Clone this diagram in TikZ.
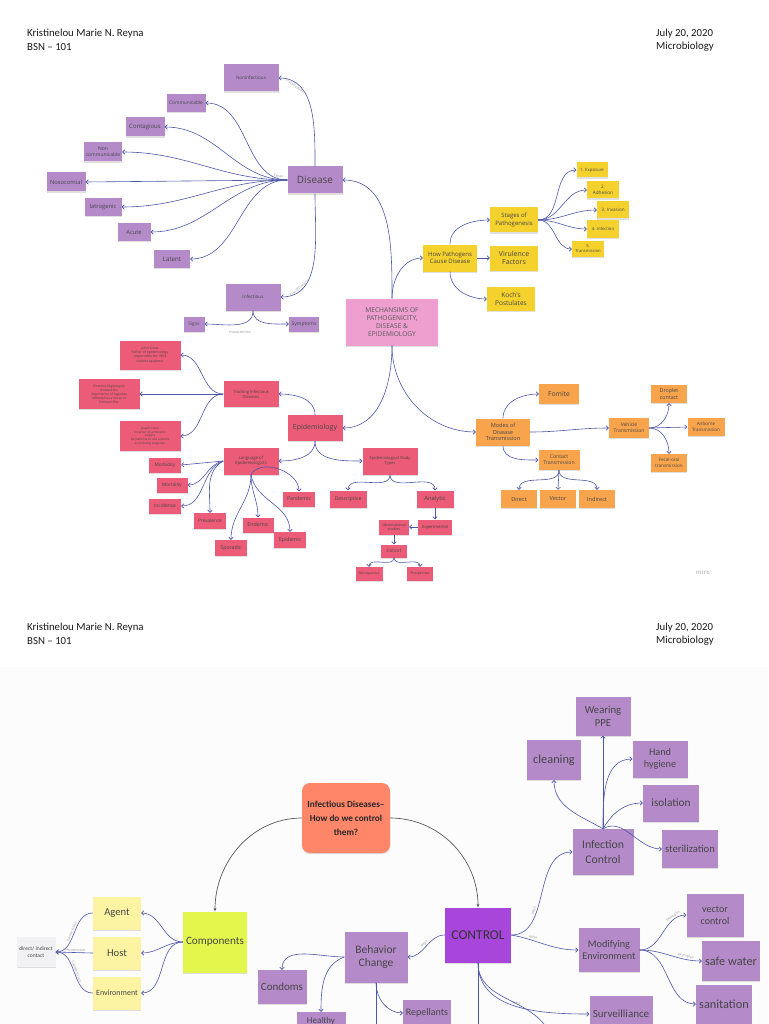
\documentclass[tikz,border=0pt]{standalone}
\usepackage{fontspec}
\setmainfont{Carlito}
\newfontfamily\miro{Open Sans}
\usetikzlibrary{arrows.meta,positioning,shadows}

\definecolor{stickyPurple}{HTML}{B48AC9}
\definecolor{stickyYellow}{HTML}{F5D12E}
\definecolor{stickyRed}{HTML}{EC5B77}
\definecolor{stickyOrange}{HTML}{F8A44C}
\definecolor{stickyPink}{HTML}{EE9FD0}
\definecolor{stickyPale}{HTML}{FCF4A3}
\definecolor{stickyLime}{HTML}{E2F64B}
\definecolor{stickyGray}{HTML}{F1F1F3}
\definecolor{ctrlViolet}{HTML}{A845DB}
\definecolor{questCoral}{HTML}{FF8669}
\definecolor{linkBlue}{HTML}{4D57A8}

\newcommand\mfs[1]{\fontsize{#1}{\the\dimexpr #1pt*6/5\relax}\selectfont}

\tikzset{
  sticky/.style={fill=#1, align=center, inner sep=1pt, text=black!72,
    drop shadow={opacity=.25, shadow xshift=0pt, shadow yshift=-1.2pt}},
  wh/.style 2 args={minimum width=#1pt, minimum height=#2pt},
  mf/.style={font=\miro\mfs{#1}},
  cf/.style={font=\mfs{#1}},
  hdr/.style={font=\mfs{10.8}, inner sep=0pt, anchor=west, text=black!90},
  link/.style={draw=linkBlue, line width=.6pt, -{Straight Barb[length=2.2pt,width=4.4pt]}},
  plainlink/.style={draw=linkBlue, line width=.6pt},
  qlink/.style={draw=black!65, line width=.7pt, -{Stealth[length=3.5pt,width=3pt]}},
  linklbl/.style={font=\miro\mfs{3.6}, text=black!40, sloped, inner sep=1pt},
}

\begin{document}
\begin{tikzpicture}[x=1pt,y=-1pt]
\useasboundingbox (0,0) rectangle (768,1024);
\fill[black!1] (0,667) rectangle (768,1024);

% ---- page 1: header
\node[hdr] (name1) at (27,34) {Kristinelou Marie N. Reyna};
\node[hdr] (bsn1) at (27,47) {BSN -- 101};
\node[hdr] (date1) at (656,34) {July 20, 2020};
\node[hdr] (subj1) at (656,47) {Microbiology};

% disease
\node[sticky=stickyPurple, wh={55}{27}, mf=10] (disease) at (315,180) {Disease};
\node[sticky=stickyPurple, wh={55}{27}, mf=4.6] (noninf) at (251,78) {Noninfectious};
\node[sticky=stickyPurple, wh={39}{18}, mf=4.8] (commun) at (186,103) {Communicable};
\node[sticky=stickyPurple, wh={39}{19}, mf=6] (contag) at (145,127) {Contagious};
\node[sticky=stickyPurple, wh={38}{19}, mf=5] (noncom) at (103,152) {Non\\communicable};
\node[sticky=stickyPurple, wh={39}{19}, mf=5.8] (nosoc) at (66,182) {Nosocomial};
\node[sticky=stickyPurple, wh={37}{18}, mf=5.8] (iatro) at (103,207) {Iatrogenic};
\node[sticky=stickyPurple, wh={33}{17}, mf=5.8] (acute) at (134,232) {Acute};
\node[sticky=stickyPurple, wh={36}{18}, mf=6.2] (latent) at (172,259) {Latent};
\node[sticky=stickyPurple, wh={55}{27}, mf=4.6] (infect) at (253,297) {Infectious};
\node[sticky=stickyPurple, wh={21}{15}, mf=4.6] (signs) at (194,324) {Signs};
\node[sticky=stickyPurple, wh={30}{15}, mf=5] (sympt) at (304,324) {Symptoms};

\draw[link] (disease.west) to[out=180,in=0] (commun.east);
\draw[link] (disease.west) to[out=180,in=0] node[pos=.06,linklbl,above]{Types} (contag.east);
\draw[link] (disease.west) to[out=180,in=0] (noncom.east);
\draw[link] (disease.west) -- (nosoc.east);
\draw[link] (disease.west) to[out=180,in=0] (iatro.east);
\draw[link] (disease.west) to[out=180,in=0] (acute.east);
\draw[link] (disease.west) to[out=180,in=0] (latent.east);
\draw[link] (disease.north) to[out=90,in=0] node[pos=.8,linklbl,below]{Classification} (noninf.east);
\draw[link] (disease.south) to[out=-90,in=0] node[pos=.8,linklbl,above]{Classification} (infect.east);
\draw[link] (infect.south) to[out=-90,in=0] (signs.east);
\draw[link] (infect.south) to[out=-90,in=180] (sympt.west);
\node[linklbl] (charlbl) at (240,332) {characteristic};

% centre
\node[sticky=stickyPink, wh={92}{47}, mf=6.6, text=black!65] (mech) at (392,322)
 {MECHANSIMS OF\\PATHOGENICITY,\\DISEASE \&\\EPIDEMIOLOGY};

% pathogens
\node[sticky=stickyYellow, wh={54}{27}, mf=6] (howpath) at (450,258) {How Pathogens\\Cause Disease};
\node[sticky=stickyYellow, wh={48}{25}, mf=6] (stages) at (514,220) {Stages of\\Pathogenesis};
\node[sticky=stickyYellow, wh={48}{25}, mf=7] (virul) at (514,258) {Virulence\\Factors};
\node[sticky=stickyYellow, wh={48}{24}, mf=6.5] (koch) at (511,299) {Koch's\\Postulates};
\node[sticky=stickyYellow, wh={31}{15}, mf=4.3] (exposure) at (592,170) {1. Exposure};
\node[sticky=stickyYellow, wh={32}{17}, mf=4.6] (adhes) at (603,190) {2.\\Adhesion};
\node[sticky=stickyYellow, wh={32}{17}, mf=4.6] (invas) at (613,210) {3. Invasion};
\node[sticky=stickyYellow, wh={32}{17}, mf=4.2] (infec) at (603,229) {4. Infection};
\node[sticky=stickyYellow, wh={32}{16}, mf=4.1] (transm) at (588,249) {5.\\Transmission};

\draw[link] (mech.north) to[out=90,in=0] (disease.east);
\draw[link] (mech.north) to[out=90,in=180] (howpath.west);
\draw[link] (howpath.north) to[out=90,in=180] (stages.west);
\draw[link] (howpath.east) -- (virul.west);
\draw[link] (howpath.south) to[out=-90,in=180] (koch.west);
\draw[link] (stages.east) to[out=0,in=180] (exposure.west);
\draw[link] (stages.east) to[out=0,in=180] (adhes.west);
\draw[link] (stages.east) to[out=0,in=180] (invas.west);
\draw[link] (stages.east) to[out=0,in=180] (infec.west);
\draw[link] (stages.east) to[out=0,in=180] (transm.west);

% epidemiology
\node[sticky=stickyRed, wh={55}{26}, mf=7] (epi) at (315,428) {Epidemiology};
\node[sticky=stickyRed, wh={55}{26}, mf=4.1] (tracking) at (251,394) {Tracking Infectious\\Diseases};
\node[sticky=stickyRed, wh={61}{29}, mf=3.4] (snow) at (150,355)
 {John Snow\\Father of epidemiology\\responsible for 1854\\cholera epidemic};
\node[sticky=stickyRed, wh={61}{30}, mf=3.3] (florence) at (109,394)
 {Florence Nightingale\\showed the\\importance of hygiene;\\reflected as a nurse in\\Crimean War};
\node[sticky=stickyRed, wh={61}{30}, mf=3.1] (lister) at (150,436)
 {Joseph Lister\\inventor of antiseptic\\surgery\\for patients to use carbolic\\acid during surgeries};
\node[sticky=stickyRed, wh={55}{27}, mf=4.3] (lang) at (251,461) {Language of\\Epidemiologists};
\node[sticky=stickyRed, wh={55}{27}, mf=4] (study) at (390,461) {Epidemiological Study\\Types};
\node[sticky=stickyRed, wh={32}{15}, mf=4.6] (morb) at (165,465) {Morbidity};
\node[sticky=stickyRed, wh={31}{15}, mf=4.7] (mort) at (172,485) {Mortality};
\node[sticky=stickyRed, wh={32}{15}, mf=4.9] (incid) at (165,506) {Incidence};
\node[sticky=stickyRed, wh={32}{16}, mf=4.7] (preval) at (210,521) {Prevalence};
\node[sticky=stickyRed, wh={32}{16}, mf=5.2] (sporad) at (231,548) {Sporadic};
\node[sticky=stickyRed, wh={31}{15}, mf=5.3] (endem) at (258,525) {Endemic};
\node[sticky=stickyRed, wh={32}{16}, mf=5.2] (epidm) at (290,540) {Epidemic};
\node[sticky=stickyRed, wh={32}{15}, mf=5.2] (pandm) at (299,499) {Pandemic};
\node[sticky=stickyRed, wh={37}{17}, mf=5.2] (descr) at (348,499) {Descriptive};
\node[sticky=stickyRed, wh={37}{17}, mf=5.8] (analyt) at (435,499) {Analytic};
\node[sticky=stickyRed, wh={34}{15}, mf=4.2] (experim) at (435,527) {Experimental};
\node[sticky=stickyRed, wh={30}{15}, mf=3.6] (observ) at (394,527) {Observational\\studies};
\node[sticky=stickyRed, wh={26}{13}, mf=4.6] (cohort) at (394,551) {Cohort};
\node[sticky=stickyRed, wh={27}{14}, mf=3.3] (retro) at (369,574) {Retrospective};
\node[sticky=stickyRed, wh={26}{14}, mf=3.5] (prosp) at (420,574) {Prospective};

\draw[link] (mech.south) to[out=-90,in=0] (epi.east);
\draw[link] (epi.north) to[out=90,in=0] (tracking.east);
\draw[link] (tracking.west) to[out=180,in=0] (snow.east);
\draw[link] (tracking.west) -- (florence.east);
\draw[link] (tracking.west) to[out=180,in=0] (lister.east);
\draw[link] (epi.south) to[out=-90,in=0] (lang.east);
\draw[link] (epi.south) to[out=-90,in=180] (study.west);
\draw[link] (lang.west) -- (morb.east);
\draw[link] (lang.west) to[out=190,in=0] (mort.east);
\draw[link] (lang.west) to[out=200,in=0] (incid.east);
\draw[link] (lang.west) to[out=210,in=90] (preval.north);
\draw[link] (lang.south) to[out=-90,in=90] (sporad.north);
\draw[link] (lang.south) to[out=-90,in=90] (endem.north);
\draw[link] (lang.south) to[out=-80,in=90] (epidm.north);
\draw[link] (lang.south) to[out=60,in=90] (pandm.north);
\draw[link] (study.south) to[out=-90,in=90] (descr.north);
\draw[link] (study.south) to[out=-90,in=90] (analyt.north);
\draw[link] (analyt.south) -- (experim.north);
\draw[link] (experim.west) -- (observ.east);
\draw[link] (observ.south) -- (cohort.north);
\draw[link] (cohort.south) to[out=-90,in=90] (retro.north);
\draw[link] (cohort.south) to[out=-90,in=90] (prosp.north);

% transmission
\node[sticky=stickyOrange, wh={54}{27}, mf=5.6] (modes) at (503,432) {Modes of\\Disease\\Transmission};
\node[sticky=stickyOrange, wh={40}{20}, mf=6.8] (fomite) at (559,394) {Fomite};
\node[sticky=stickyOrange, wh={41}{20}, mf=5.1] (contact) at (559,460) {Contact\\Transmission};
\node[sticky=stickyOrange, wh={36}{18}, mf=5.6] (direct) at (519,499) {Direct};
\node[sticky=stickyOrange, wh={36}{18}, mf=5.6] (vector) at (558,499) {Vector};
\node[sticky=stickyOrange, wh={36}{18}, mf=5.6] (indirect) at (597,499) {Indirect};
\node[sticky=stickyOrange, wh={40}{20}, mf=5] (vehicle) at (629,428) {Vehicle\\Transmission};
\node[sticky=stickyOrange, wh={36}{18}, mf=5.3] (droplet) at (669,394) {Droplet\\contact};
\node[sticky=stickyOrange, wh={37}{18}, mf=4.5] (airborne) at (706,427) {Airborne\\Transmission};
\node[sticky=stickyOrange, wh={36}{18}, mf=4.6] (fecal) at (669,463) {Fecal-oral\\transmission};

\draw[link] (mech.south) to[out=-90,in=180] (modes.west);
\draw[link] (modes.north) to[out=90,in=180] (fomite.west);
\draw[link] (modes.south) to[out=-90,in=180] (contact.west);
\draw[link] (modes.east) to[out=0,in=180] (vehicle.west);
\draw[link] (contact.south) to[out=-90,in=90] (direct.north);
\draw[link] (contact.south) -- (vector.north);
\draw[link] (contact.south) to[out=-90,in=90] (indirect.north);
\draw[link] (vehicle.east) to[out=0,in=-90] (droplet.south);
\draw[link] (vehicle.east) -- (airborne.west);
\draw[link] (vehicle.east) to[out=0,in=90] (fecal.north);

\node[font=\miro\bfseries\mfs{6}, text=black!22] (miro) at (703,572) {miro};

% ---- page 2: header
\node[hdr] (name2) at (27,628) {Kristinelou Marie N. Reyna};
\node[hdr] (bsn2) at (27,641) {BSN -- 101};
\node[hdr] (date2) at (656,628) {July 20, 2020};
\node[hdr] (subj2) at (656,641) {Microbiology};

% question and components
\node[sticky=questCoral, rounded corners=8pt, wh={88}{70}, font=\bfseries\fontsize{9.2}{14}\selectfont, text=black!85] (quest) at (346,818)
 {Infectious Diseases--\\How do we control\\them?};
\node[sticky=stickyLime, wh={64}{61}, cf=11.2] (comp) at (215,942) {Components};
\node[sticky=stickyPale, wh={48}{33}, cf=10.6] (agent) at (117,913) {Agent};
\node[sticky=stickyPale, wh={48}{33}, cf=10.6] (host) at (117,953) {Host};
\node[sticky=stickyPale, wh={48}{33}, cf=8] (envir) at (117,993) {Environment};
\node[sticky=stickyGray, wh={39}{30}, cf=5.5] (contact2) at (36,952) {direct/ indirect\\contact};

\draw[qlink] (quest.west) to[out=180,in=90] (comp.north);
\draw[link] (comp.west) to[out=180,in=0] (agent.east);
\draw[link] (comp.west) to[out=180,in=0] (host.east);
\draw[link] (comp.west) to[out=180,in=0] (envir.east);
\draw[link] (agent.west) to[out=180,in=0] node[linklbl,above]{transmission} (contact2.east);
\draw[link] (host.west) -- node[linklbl,above]{transmission} (contact2.east);
\draw[link] (envir.west) to[out=180,in=0] node[linklbl,above]{transmission} (contact2.east);

% control
\node[sticky=ctrlViolet, wh={66}{55}, cf=13.5, text=black!80] (ctrl) at (478,935) {CONTROL};
\node[sticky=stickyPurple, wh={63}{51}, cf=11.5] (behav) at (376,957) {Behavior\\Change};
\node[sticky=stickyPurple, wh={49}{34}, cf=11] (condoms) at (282,987) {Condoms};
\node[sticky=stickyPurple, wh={49}{18}, cf=9] (healthy) at (321,1021) {Healthy};
\node[sticky=stickyPurple, wh={48}{26}, cf=10] (repel) at (427,1013) {Repellants};
\node[sticky=stickyPurple, wh={63}{36}, cf=11] (surv) at (621,1014) {Surveilliance};
\node[sticky=stickyPurple, wh={61}{46}, cf=11.7] (infc) at (603,852) {Infection\\Control};
\node[sticky=stickyPurple, wh={54}{40}, cf=12.3] (clean) at (554,760) {cleaning};
\node[sticky=stickyPurple, wh={55}{39}, cf=10.7] (ppe) at (603,716) {Wearing\\PPE};
\node[sticky=stickyPurple, wh={55}{37}, cf=10.2] (hand) at (660,759) {Hand\\hygiene};
\node[sticky=stickyPurple, wh={56}{37}, cf=11.3] (isol) at (671,803) {isolation};
\node[sticky=stickyPurple, wh={56}{38}, cf=10.6] (steril) at (690,849) {sterilization};
\node[sticky=stickyPurple, wh={61}{44}, cf=10.2] (modenv) at (609,950) {Modifying\\Environment};
\node[sticky=stickyPurple, wh={57}{43}, cf=10] (vecc) at (715,915) {vector\\control};
\node[sticky=stickyPurple, wh={58}{40}, cf=12.3] (safew) at (731,961) {safe water};
\node[sticky=stickyPurple, wh={56}{39}, cf=12.3] (sanit) at (724,1004) {sanitation};
\coordinate (ctrlend) at (478,1030);
\coordinate (ctrlend2) at (548,1030);
\coordinate (behavend) at (376,1030);

\draw[qlink] (quest.east) to[out=0,in=90] (ctrl.north);
\draw[link] (ctrl.west) to[out=180,in=0] node[linklbl,above]{ways} (behav.east);
\draw[link] (ctrl.east) to[out=0,in=180] node[pos=.35,linklbl,above]{ways} (infc.west);
\draw[link] (ctrl.east) to[out=-10,in=180] node[pos=.3,linklbl,above]{ways} (modenv.west);
\draw[plainlink] (ctrl.south) -- (ctrlend);
\draw[link] (ctrl.south) to[out=-90,in=180] node[pos=.5,linklbl,above]{ways} (surv.west);
\draw[plainlink] (ctrl.south) to[out=-90,in=120] (ctrlend2);
\draw[link] (behav.west) to[out=180,in=90] (condoms.north);
\draw[link] (behav.west) to[out=200,in=90] (healthy.north);
\draw[plainlink] (behav.south) -- (behavend);
\draw[link] (behav.south) to[out=-90,in=180] (repel.west);
\draw[link] (infc.north) -- (ppe.south);
\draw[link] (infc.north) to[out=150,in=-90] (clean.south);
\draw[link] (infc.north) to[out=90,in=180] (hand.west);
\draw[link] (infc.north) to[out=60,in=180] (isol.west);
\draw[link] (infc.north) to[out=30,in=180] (steril.west);
\draw[link] (modenv.east) to[out=0,in=180] node[pos=.8,linklbl,above]{examples} (vecc.west);
\draw[link] (modenv.east) to[out=0,in=180] node[pos=.75,linklbl,above]{examples} (safew.west);
\draw[link] (modenv.east) to[out=0,in=180] (sanit.west);
\end{tikzpicture}
\end{document}
